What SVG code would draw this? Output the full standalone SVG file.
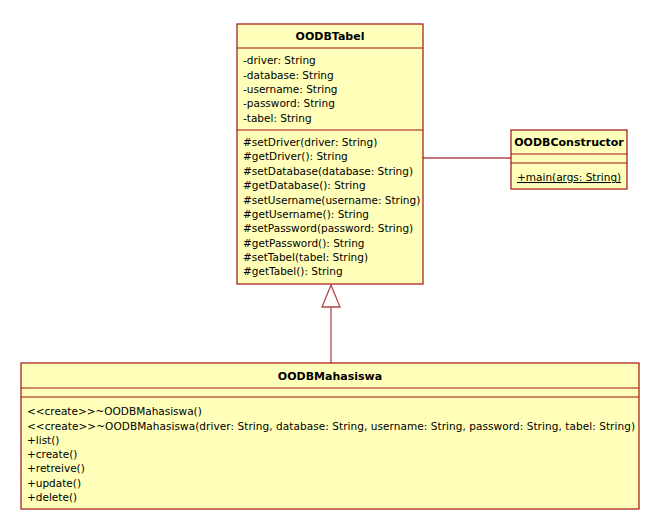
<svg xmlns="http://www.w3.org/2000/svg" width="657" height="525" viewBox="0 0 657 525">
<style>
.box{fill:#FFFFB9;stroke:#A50F14;stroke-width:1.2}
.sep{stroke:#A50F14;stroke-width:1.2}
.t{font-family:"DejaVu Sans",sans-serif;font-size:10.5px;fill:#000}
.title{font-family:"DejaVu Sans",sans-serif;font-size:11px;font-weight:bold;fill:#000;text-anchor:middle}
.conn{stroke:#B5474B;stroke-width:1.3;fill:none}
</style>
<rect width="657" height="525" fill="#fff"/>
<g id="connectors">
<line class="conn" x1="423" y1="158" x2="511" y2="158"/>
<line class="conn" x1="331" y1="307" x2="331" y2="363"/>
<polygon class="conn" fill="#fff" points="331,285 322,307 340,307"/>
</g>
<g id="OODBTabel">
<rect class="box" x="237" y="24" width="186" height="260"/>
<line class="sep" x1="237" y1="48" x2="423" y2="48"/>
<line class="sep" x1="237" y1="130" x2="423" y2="130"/>
<text class="title" x="330" y="40">OODBTabel</text>
<text class="t" x="243" y="64">-driver: String</text>
<text class="t" x="243" y="79">-database: String</text>
<text class="t" x="243" y="93">-username: String</text>
<text class="t" x="243" y="107">-password: String</text>
<text class="t" x="243" y="122">-tabel: String</text>
<text class="t" x="243" y="146">#setDriver(driver: String)</text>
<text class="t" x="243" y="160">#getDriver(): String</text>
<text class="t" x="243" y="175">#setDatabase(database: String)</text>
<text class="t" x="243" y="189">#getDatabase(): String</text>
<text class="t" x="243" y="204">#setUsername(username: String)</text>
<text class="t" x="243" y="218">#getUsername(): String</text>
<text class="t" x="243" y="232">#setPassword(password: String)</text>
<text class="t" x="243" y="247">#getPassword(): String</text>
<text class="t" x="243" y="261">#setTabel(tabel: String)</text>
<text class="t" x="243" y="275">#getTabel(): String</text>
</g>
<g id="OODBConstructor">
<rect class="box" x="511" y="130" width="116" height="59"/>
<line class="sep" x1="511" y1="154" x2="627" y2="154"/>
<line class="sep" x1="511" y1="163" x2="627" y2="163"/>
<text class="title" x="569" y="146">OODBConstructor</text>
<text class="t" x="517" y="181" text-decoration="underline">+main(args: String)</text>
</g>
<g id="OODBMahasiswa">
<rect class="box" x="21" y="363" width="618" height="146"/>
<line class="sep" x1="21" y1="388" x2="639" y2="388"/>
<line class="sep" x1="21" y1="397" x2="639" y2="397"/>
<text class="title" x="330" y="380">OODBMahasiswa</text>
<text class="t" x="27" y="415">&lt;&lt;create&gt;&gt;~OODBMahasiswa()</text>
<text class="t" x="27" y="430" textLength="608" lengthAdjust="spacing">&lt;&lt;create&gt;&gt;~OODBMahasiswa(driver: String, database: String, username: String, password: String, tabel: String)</text>
<text class="t" x="27" y="444">+list()</text>
<text class="t" x="27" y="458">+create()</text>
<text class="t" x="27" y="472">+retreive()</text>
<text class="t" x="27" y="487">+update()</text>
<text class="t" x="27" y="501">+delete()</text>
</g>
</svg>
